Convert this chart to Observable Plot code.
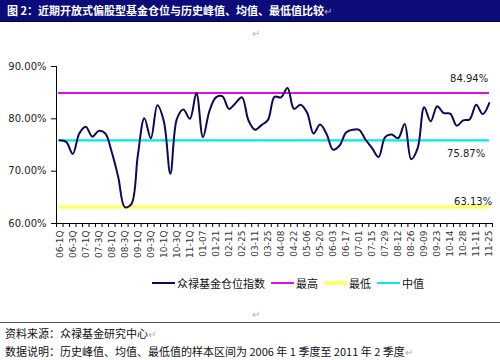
<!DOCTYPE html>
<html><head><meta charset="utf-8">
<script src="https://cdn.jsdelivr.net/npm/d3@7"></script>
<script src="https://cdn.jsdelivr.net/npm/@observablehq/plot@0.6"></script>
<style>
body{margin:0;background:#fff;}
#wrap{position:relative;width:500px;height:360px;background:#fff;overflow:hidden;font-family:"Noto Sans CJK SC","Noto Sans",sans-serif;}
#title{position:absolute;left:0;top:0;width:493px;height:21px;background:#0b0b7a;border-bottom:1px solid #000040;color:#fff;font-weight:bold;font-size:11px;line-height:21px;padding-left:7px;white-space:nowrap;}
.pm{color:#b0b0b0;font-weight:normal;font-size:10px;}
#chart{position:absolute;left:0;top:40px;}
#legend{position:absolute;left:152px;top:275px;height:16px;display:flex;align-items:center;font-size:11px;color:#111;white-space:nowrap;}
#legend .sw{display:inline-block;width:23px;margin-right:2px;}
#legend .it{display:flex;align-items:center;margin-right:6px;}
#sep{position:absolute;left:0;top:322px;width:500px;height:0;border-top:1px solid #555;}
.foot{position:absolute;left:5px;font-size:11px;color:#111;white-space:nowrap;}
</style></head>
<body>
<div id="wrap">
  <div id="title">图 2：近期开放式偏股型基金仓位与历史峰值、均值、最低值比较<span class="pm">↵</span></div>
  <div class="pm" style="position:absolute;left:252px;top:25px;">↵</div>
  <div id="chart"></div>
  <div id="legend"></div>
  <div class="pm" style="position:absolute;left:252px;top:306px;">↵</div>
  <div id="sep"></div>
  <div class="foot" style="top:325px;">资料来源：众禄基金研究中心<span class="pm">↵</span></div>
  <div class="foot" style="top:343px;">数据说明：历史峰值、均值、最低值的样本区间为 2006 年 1 季度至 2011 年 2 季度<span class="pm">↵</span></div>
</div>
<script>
// ---- data ----
const quarters = ["06-1Q","06-2Q","06-3Q","06-4Q","07-1Q","07-2Q","07-3Q","07-4Q","08-1Q","08-2Q","08-3Q","08-4Q","09-1Q","09-2Q","09-3Q","09-4Q","10-1Q","10-2Q","10-3Q","10-4Q","11-1Q","11-2Q"];
const quarterValues = [75.9,75.6,73.3,77.2,78.5,76.6,77.7,77.2,73.6,68.8,63.13,63.7,73.0,80.1,76.3,82.6,79.5,69.5,80.0,81.8,80.0,84.94];
const weeks = ["01-07","01-14","01-21","01-28","02-11","02-18","02-25","03-04","03-11","03-18","03-25","04-01","04-08","04-15","04-22","04-29","05-06","05-13","05-20","05-27","06-03","06-10","06-17","06-24","07-01","07-08","07-15","07-22","07-29","08-05","08-12","08-19","08-26","09-02","09-09","09-16","09-23","09-30","10-14","10-21","10-28","11-04","11-11","11-18","11-25"];
const weekValues = [76.5,81.5,84.1,84.3,81.9,83.0,84.1,79.7,77.9,78.8,79.8,84.2,84.1,85.9,81.9,82.7,81.2,77.2,78.9,77.1,74.1,74.9,77.4,77.9,77.9,76.0,74.4,72.7,76.5,77.0,76.3,79.0,72.3,74.4,82.2,79.5,82.4,81.1,81.0,78.7,79.7,79.9,82.7,80.9,83.0];
const refNames = ["最高","最低","中值"];
const refValues = [84.94,63.13,75.87];
const seriesName = "众禄基金仓位指数";
const yTicks = [60,70,80,90];

// ---- build ----
const categories = quarters.concat(weeks);
const values = quarterValues.concat(weekValues);
const rows = categories.map((c,i)=>({cat:c, v:values[i]}));
const labeled = categories.filter((c,i)=>i%2===0);
const last = categories[categories.length-1];
const refs = refNames.map((n,i)=>({name:n, v:refValues[i]}));
const colors = {"line":"#0a0a5a","最高":"#e010e0","最低":"#ffff66","中值":"#00e8f0"};
const widths = {"最高":2,"最低":3.5,"中值":2.2};

const W=500, ML=56, MR=8;
const bw = (W-ML-MR)/categories.length;
const fmt = d => d.toFixed(2)+"%";

const plot = Plot.plot({
  width: W, height: 228,
  marginLeft: ML, marginRight: MR, marginTop: 26, marginBottom: 45,
  style:{fontFamily:"DejaVu Sans, sans-serif", fontSize:"10px", color:"#222", background:"transparent"},
  x:{type:"band", domain:categories, padding:0, label:null},
  y:{domain:[60,90], label:null},
  marks:[
    Plot.ruleY(refs, {y:"v", stroke:d=>colors[d.name], strokeWidth:d=>widths[d.name], insetLeft:2, insetRight:3}),
    Plot.line(rows, {x:"cat", y:"v", stroke:colors.line, strokeWidth:2, curve:"catmull-rom"}),
    Plot.text(refs.filter(d=>d.name==="最高"), {x:()=>last, y:"v", text:d=>fmt(d.v), textAnchor:"end", dx:-1, dy:-14, fontSize:10, fill:"#222"}),
    Plot.text(refs.filter(d=>d.name==="中值"), {x:()=>last, y:"v", text:d=>fmt(d.v), textAnchor:"end", dx:-4, dy:13, fontSize:10, fill:"#222"}),
    Plot.text(refs.filter(d=>d.name==="最低"), {x:()=>last, y:"v", text:d=>fmt(d.v), textAnchor:"end", dx:3, dy:-5, fontSize:10, fill:"#222"}),
    Plot.axisY({ticks:yTicks, tickSize:5, tickPadding:5, tickFormat:fmt, fontSize:10, stroke:"#000"}),
    Plot.axisX({ticks:labeled, tickSize:0, tickPadding:7, tickRotate:-90, fontSize:9, fill:"#333"}),
    Plot.axisX({ticks:categories, tickSize:4, tickFormat:()=>"", dx:-bw/2, stroke:"#000"}),
    Plot.axisX({ticks:[last], tickSize:4, tickFormat:()=>"", dx:bw/2, stroke:"#000"}),
    Plot.ruleY([60], {stroke:"#000"}),
    Plot.ruleX([categories[0]], {dx:-bw/2, stroke:"#000"})
  ]
});
document.getElementById("chart").appendChild(plot);

// ---- legend ----
const legend = document.getElementById("legend");
const items = [{name:seriesName, c:colors.line, w:2}].concat(refs.map(d=>({name:d.name, c:colors[d.name], w:widths[d.name]})));
items.forEach(it=>{
  const s = document.createElement("span"); s.className="it";
  s.innerHTML = `<span class="sw" style="height:${Math.max(2,Math.round(it.w))}px;background:${it.c}"></span>${it.name}`;
  legend.appendChild(s);
});
</script>
</body></html>
